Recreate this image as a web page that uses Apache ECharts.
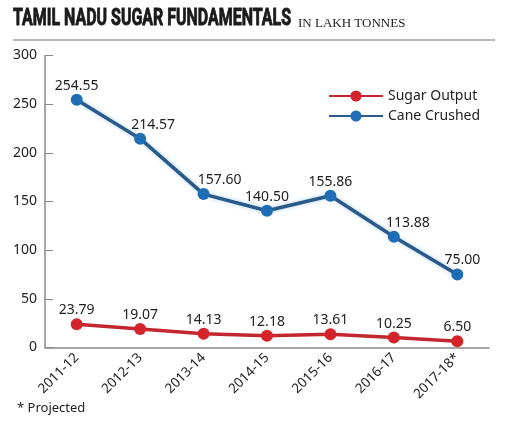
<!DOCTYPE html>
<html>
<head>
<meta charset="utf-8">
<script src="https://cdn.jsdelivr.net/npm/echarts@6/dist/echarts.min.js"></script>
<style>
html,body{margin:0;padding:0;background:#fff;}
#c{width:512px;height:431px;}
</style>
</head>
<body>
<div id="c"></div>
<script>
var categories = ['2011-12','2012-13','2013-14','2014-15','2015-16','2016-17','2017-18*'];
var sugarOutput = [23.79, 19.07, 14.13, 12.18, 13.61, 10.25, 6.50];
var caneCrushed = [254.55, 214.57, 157.60, 140.50, 155.86, 113.88, 75.00];
var yTicks = [0, 50, 100, 150, 200, 250, 300];
// horizontal nudges (px) of the Cane Crushed value labels, as placed in the original
var caneLabelShift = [0, 13, 16, 0, 0, 14, 5];

var FONT = "'Noto Sans', 'DejaVu Sans', sans-serif";
var RED_LINE = '#c2272f', RED_DOT = '#d3232b';
var BLUE_LINE = '#2a5a8a', BLUE_DOT = '#1f6db5';

var TITLE = 'TAMIL NADU SUGAR FUNDAMENTALS';
var TITLE_FONT = "bold 23px Roboto, 'DejaVu Sans', sans-serif";
var ctx = document.createElement('canvas').getContext('2d');
ctx.font = TITLE_FONT;
var titleW = ctx.measureText(TITLE).width;
var titleScale = 278 / titleW;

function fmt(p) { return Number(p.value).toFixed(2); }

var chart = echarts.init(document.getElementById('c'));
chart.setOption({
  backgroundColor: '#fff',
  animation: false,
  graphic: [
    {type:'text', x: 13, y: 8, scaleX: titleScale, scaleY: 1,
      style:{text: TITLE, font: TITLE_FONT, fill:'#1a1a1a', stroke:'#1a1a1a', lineWidth: 0.9}},
    {type:'text', left: 298, top: 17, style:{text:'IN LAKH TONNES', font:"13px 'Liberation Serif', 'DejaVu Serif', serif", fill:'#222'}},
    {type:'line', shape:{x1:13, y1:40, x2:495, y2:40}, style:{stroke:'#a0a0a0', lineWidth:1.5}},
    {type:'text', left: 17, top: 402, style:{text:'* Projected', font:"13px " + FONT, fill:'#222'}}
  ],
  legend: {
    orient: 'vertical',
    left: 323, top: 84,
    itemWidth: 54, itemHeight: 14, itemGap: 6,
    textStyle: {fontFamily: FONT, fontSize: 14, color: '#222'},
    data: ['Sugar Output', 'Cane Crushed']
  },
  grid: {left: 45, right: 23, top: 55.5, bottom: 83.5, containLabel: false},
  xAxis: {
    type: 'category',
    data: categories,
    boundaryGap: true,
    axisLine: {lineStyle: {color: '#888', width: 1.5}},
    axisTick: {inside: true, length: 8, lineStyle: {color: '#888', width: 1}},
    axisLabel: {rotate: 45, fontFamily: FONT, fontSize: 13.5, color: '#222', margin: 8}
  },
  yAxis: {
    type: 'value',
    min: 0, max: 300, interval: 50,
    splitLine: {show: false},
    axisLine: {show: true, lineStyle: {color: '#888', width: 1.5}},
    axisTick: {show: true, inside: true, length: 8, lineStyle: {color: '#888', width: 1}},
    axisLabel: {fontFamily: FONT, fontSize: 14, color: '#222', margin: 8,
      formatter: function (v) { return yTicks.indexOf(v) >= 0 ? String(v) : ''; }}
  },
  series: [
    {
      name: 'Sugar Output', type: 'line', data: sugarOutput,
      symbol: 'circle', symbolSize: 12,
      lineStyle: {color: RED_LINE, width: 3.5},
      itemStyle: {color: RED_DOT},
      label: {show: true, position: 'top', distance: 1, fontFamily: FONT, fontSize: 14, color: '#222', formatter: fmt}
    },
    {
      name: 'Cane Crushed', type: 'line',
      data: caneCrushed.map(function (v, i) {
        return {value: v, label: {offset: [caneLabelShift[i], 0]}};
      }),
      symbol: 'circle', symbolSize: 12,
      lineStyle: {color: BLUE_LINE, width: 3.5, shadowColor: 'rgba(120,180,235,0.6)', shadowBlur: 4},
      itemStyle: {color: BLUE_DOT},
      label: {show: true, position: 'top', distance: 1, fontFamily: FONT, fontSize: 14, color: '#222', formatter: fmt}
    }
  ]
});
</script>
</body>
</html>
